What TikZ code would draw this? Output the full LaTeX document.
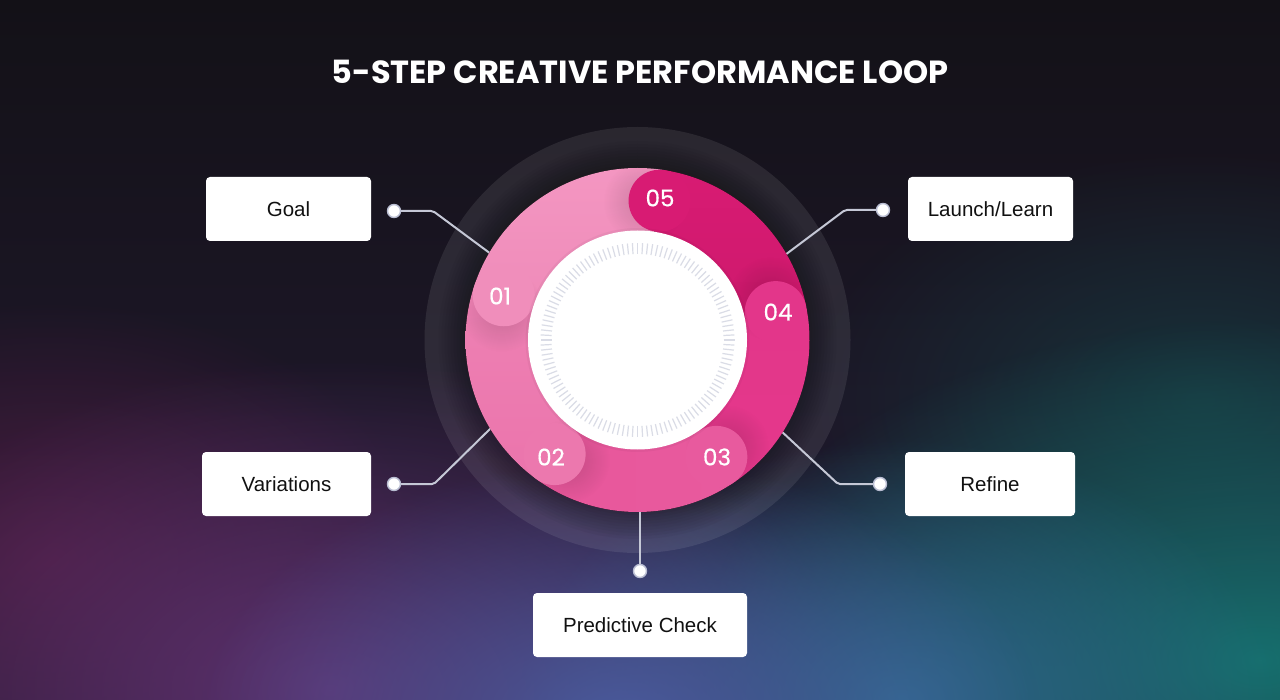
\documentclass[tikz,border=0pt]{standalone}
\usepackage{fontspec}
\setmainfont{Liberation Sans}
\newfontfamily\titlefont{Poppins}
\newfontfamily\numfont[FakeBold=0.6]{Poppins}
\usetikzlibrary{calc,fadings}
\tikzfading[name=blobfade, inner color=transparent!0, outer color=transparent!100]
\definecolor{bgtop}{HTML}{131117}
\definecolor{bgbot}{HTML}{231B33}
\definecolor{bgred}{HTML}{4A1C40}
\definecolor{bgpurple}{HTML}{5E3270}
\definecolor{bgblue}{HTML}{4A5A9C}
\definecolor{bgmid}{HTML}{2E6A8E}
\definecolor{bgteal}{HTML}{16706E}
\definecolor{bgdteal}{HTML}{18333B}
\definecolor{conncol}{HTML}{C5C8D6}
\definecolor{dotborder}{HTML}{B9BDD2}
\definecolor{labeltext}{HTML}{111111}
\definecolor{tickcol}{HTML}{DADCE6}
\definecolor{sOneA}{HTML}{F497C2}
\definecolor{sOneB}{HTML}{EF8BB9}
\definecolor{sTwoA}{HTML}{EE82B4}
\definecolor{sTwoB}{HTML}{EB74AC}
\definecolor{sThreeA}{HTML}{E8579B}
\definecolor{sThreeB}{HTML}{E85A9E}
\definecolor{sFourA}{HTML}{E3368A}
\definecolor{sFourB}{HTML}{E4388B}
\definecolor{sFiveA}{HTML}{D81B73}
\definecolor{sFiveB}{HTML}{CE196D}
\definecolor{capOne}{HTML}{F08EBB}
\definecolor{capTwo}{HTML}{EC78AE}
\definecolor{capThree}{HTML}{E85A9E}
\definecolor{capFour}{HTML}{E3368A}
\definecolor{capFive}{HTML}{D81B73}
\tikzset{
  labelbox/.style={fill=white, rounded corners=4pt, minimum height=64pt, inner sep=0pt,
    text=labeltext, font=\fontsize{20.5}{24}\selectfont},
  dotnode/.style={circle, fill=white, draw=dotborder, line width=1.4pt, minimum size=13pt, inner sep=0pt},
  conn/.style={draw=conncol, line width=2pt, rounded corners=2pt},
  numlabel/.style={text=white, font=\numfont\fontsize{23}{26}\selectfont},
  tickline/.style={draw=tickcol, line width=1.2pt},
  blob/.style={fill=#1, path fading=blobfade}
}
\begin{document}
\begin{tikzpicture}[x=1pt,y=-1pt]
\useasboundingbox (0,0) rectangle (1280,700);
% background
\begin{scope}
\clip (0,0) rectangle (1280,700);
\fill[top color=bgtop, bottom color=bgbot] (0,0) rectangle (1280,700);
\fill[blob=bgdteal] (800,150) rectangle (1600,650);
\fill[blob=bgred] (-330,300) rectangle (430,820);
\fill[blob=bgpurple] (-190,360) rectangle (850,1020);
\fill[blob=bgteal] (700,320) rectangle (1820,1000);
\fill[blob=bgmid] (520,440) rectangle (1280,960);
\fill[blob=bgblue] (200,460) rectangle (1040,980);
\end{scope}

\coordinate (C) at (637.5,340);

% title
\node[text=white, font=\titlefont\bfseries\fontsize{32}{36}\selectfont] (title) at (640,72) {5-STEP CREATIVE PERFORMANCE LOOP};

% halo
\fill[white, opacity=0.085] (C) circle[radius=213];
\foreach \r in {175,178,...,199} \fill[black, opacity=0.03] (C) circle[radius=\r];

% boxes
\node[labelbox, minimum width=165pt] (goal) at (288.5,209) {Goal};
\node[labelbox, minimum width=165pt] (launch) at (990.5,209) {Launch/Learn};
\node[labelbox, minimum width=169pt] (vari) at (286.5,484) {Variations};
\node[labelbox, minimum width=170pt] (refine) at (990,484) {Refine};
\node[labelbox, minimum width=214pt] (pred) at (640,625) {Predictive Check};

% connectors
\node[dotnode] (dgoal) at (394,211) {};
\node[dotnode] (dlaunch) at (883,210) {};
\node[dotnode] (dvari) at (394,484) {};
\node[dotnode] (drefine) at (880,484) {};
\node[dotnode] (dpred) at (640,571) {};
\coordinate (rgoal) at (491,254);
\coordinate (rlaunch) at (785,255);
\coordinate (rvari) at (491,428);
\coordinate (rrefine) at (780,430);
\coordinate (rpred) at (640,510);
\draw[conn] (dgoal) -- (433,211) -- (rgoal);
\draw[conn] (dlaunch) -- (845,210) -- (rlaunch);
\draw[conn] (dvari) -- (434,484) -- (rvari);
\draw[conn] (drefine) -- (838,484) -- (rrefine);
\draw[conn] (dpred) -- (rpred);

% ring segments (screen angles, clockwise positive)
\def\aF{-81}\def\aO{-161.5}\def\aT{-234}\def\aH{-304}\def\aR{-371.4}
\begin{scope}
\clip (C) circle[radius=172];
\fill[top color=sOneA, bottom color=sOneB] ($(C)+(\aF:172)$) arc[start angle=\aF, end angle=\aO, radius=172] -- ($(C)+(\aO:105)$) arc[start angle=\aO, end angle=\aF, radius=105] -- cycle;
\fill[top color=sTwoA, bottom color=sTwoB] ($(C)+(\aO:172)$) arc[start angle=\aO, end angle=\aT, radius=172] -- ($(C)+(\aT:105)$) arc[start angle=\aT, end angle=\aO, radius=105] -- cycle;
\fill[left color=sThreeA, right color=sThreeB] ($(C)+(\aT:172)$) arc[start angle=\aT, end angle=\aH, radius=172] -- ($(C)+(\aH:105)$) arc[start angle=\aH, end angle=\aT, radius=105] -- cycle;
\fill[top color=sFourA, bottom color=sFourB] ($(C)+(\aH:172)$) arc[start angle=\aH, end angle=\aR, radius=172] -- ($(C)+(\aR:105)$) arc[start angle=\aR, end angle=\aH, radius=105] -- cycle;
\fill[top color=sFiveA, bottom color=sFiveB] ($(C)+(-11.4:172)$) arc[start angle=-11.4, end angle=\aF, radius=172] -- ($(C)+(\aF:105)$) arc[start angle=\aF, end angle=-11.4, radius=105] -- cycle;
% cap shadows
\foreach \a in {\aF,\aO,\aT,\aH,\aR}
  \fill[black, opacity=0.16, path fading=blobfade] ($(C)+(\a-6:139)$) circle[radius=42];
% caps
\fill[capFive] ($(C)+(\aF:141)$) circle[radius=31];
\fill[capOne] ($(C)+(\aO:141)$) circle[radius=31];
\fill[capTwo] ($(C)+(\aT:141)$) circle[radius=31];
\fill[capThree] ($(C)+(\aH:141)$) circle[radius=31];
\fill[capFour] ($(C)+(\aR:141)$) circle[radius=31];
\end{scope}

% inner white disc with ticks
\fill[black, opacity=0.035] (C) circle[radius=112];
\fill[white] (C) circle[radius=109.5];
\foreach \a in {0,3,...,357} \draw[tickline] (C) ++(\a:86) -- ++(\a:11);

% numbers
\node[numlabel] (n1) at (500,296) {01};
\node[numlabel] (n2) at (551,457) {02};
\node[numlabel] (n3) at (717,457) {03};
\node[numlabel] (n4) at (778,312) {04};
\node[numlabel] (n5) at (660,198) {05};
\end{tikzpicture}
\end{document}
